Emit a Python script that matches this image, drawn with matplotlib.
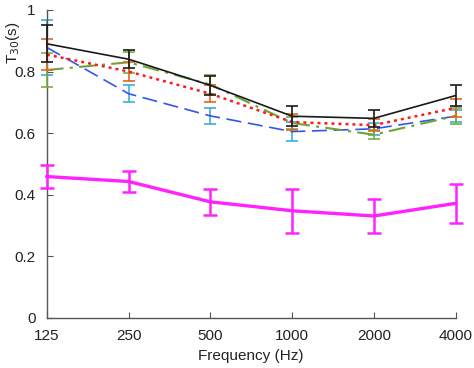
import matplotlib
matplotlib.use('Agg')
import matplotlib.pyplot as plt

plt.rcParams['font.family'] = ['Liberation Sans', 'DejaVu Sans']

freqs = ['125', '250', '500', '1000', '2000', '4000']

# T30 values per series (mean, error)
black_mean = [0.89, 0.84, 0.755, 0.655, 0.648, 0.722]
black_err = [0.06, 0.03, 0.03, 0.032, 0.028, 0.035]

red_mean = [0.855, 0.80, 0.728, 0.636, 0.626, 0.682]
red_err = [0.05, 0.03, 0.028, 0.025, 0.02, 0.03]

green_mean = [0.805, 0.83, 0.758, 0.633, 0.595, 0.656]
green_err = [0.055, 0.035, 0.03, 0.02, 0.015, 0.025]

blue_mean = [0.878, 0.728, 0.656, 0.605, 0.614, 0.655]
blue_err = [0.09, 0.027, 0.026, 0.03, 0.02, 0.02]

mag_mean = [0.459, 0.443, 0.377, 0.348, 0.331, 0.372]
mag_err = [0.037, 0.035, 0.043, 0.072, 0.054, 0.064]

x = list(range(len(freqs)))

fig = plt.figure(figsize=(4.74, 3.68), dpi=100)
ax = fig.add_axes([0.099, 0.136, 0.862, 0.837])


def draw(mean, err, **kw):
    lines = ax.errorbar(x, mean, yerr=err, **kw)
    for art in lines.get_children():
        art.set_clip_on(False)


draw(black_mean, black_err, color='#1a1a1a', ecolor='#1a1a1a',
     lw=1.2, elinewidth=1.2, capsize=4, capthick=1.2, zorder=5)
draw(red_mean, red_err, color='#ff1a1a', ecolor='#e0661f',
     lw=1.8, ls=(0, (1.2, 1.6)), elinewidth=1.2, capsize=4, capthick=1.2, zorder=4)
draw(green_mean, green_err, color='#6aa536', ecolor='#78b040',
     lw=1.5, ls=(0, (8, 3, 1.5, 3)), elinewidth=1.2, capsize=4, capthick=1.2, zorder=3)
draw(blue_mean, blue_err, color='#3355ee', ecolor='#3ab0d8',
     lw=1.2, ls=(0, (9, 4)), elinewidth=1.2, capsize=4, capthick=1.2, zorder=2)
draw(mag_mean, mag_err, color='#ff22ff', ecolor='#ff22ff',
     lw=2.4, elinewidth=1.8, capsize=5, capthick=1.8, zorder=6)

ax.set_xlim(0, 5)
ax.set_ylim(0, 1)
ax.set_xticks(x)
ax.set_xticklabels(freqs)
ax.set_yticks([0, 0.2, 0.4, 0.6, 0.8, 1])
ax.set_yticklabels(['0', '0.2', '0.4', '0.6', '0.8', '1'])

for side in ['top', 'right']:
    ax.spines[side].set_visible(False)
for side in ['left', 'bottom']:
    ax.spines[side].set_color('#555555')
    ax.spines[side].set_linewidth(1.0)
ax.tick_params(direction='in', length=4, width=0.8, color='#555555',
               labelsize=11, labelcolor='#222222', pad=8)

ax.set_xlabel('Frequency (Hz)', fontsize=11, color='#222222', labelpad=4)
fig.text(0.028, 0.885, r'T$_{30}$(s)', rotation=90, fontsize=11,
         color='#222222', ha='center', va='center')

fig.savefig('out.png', dpi=100)
